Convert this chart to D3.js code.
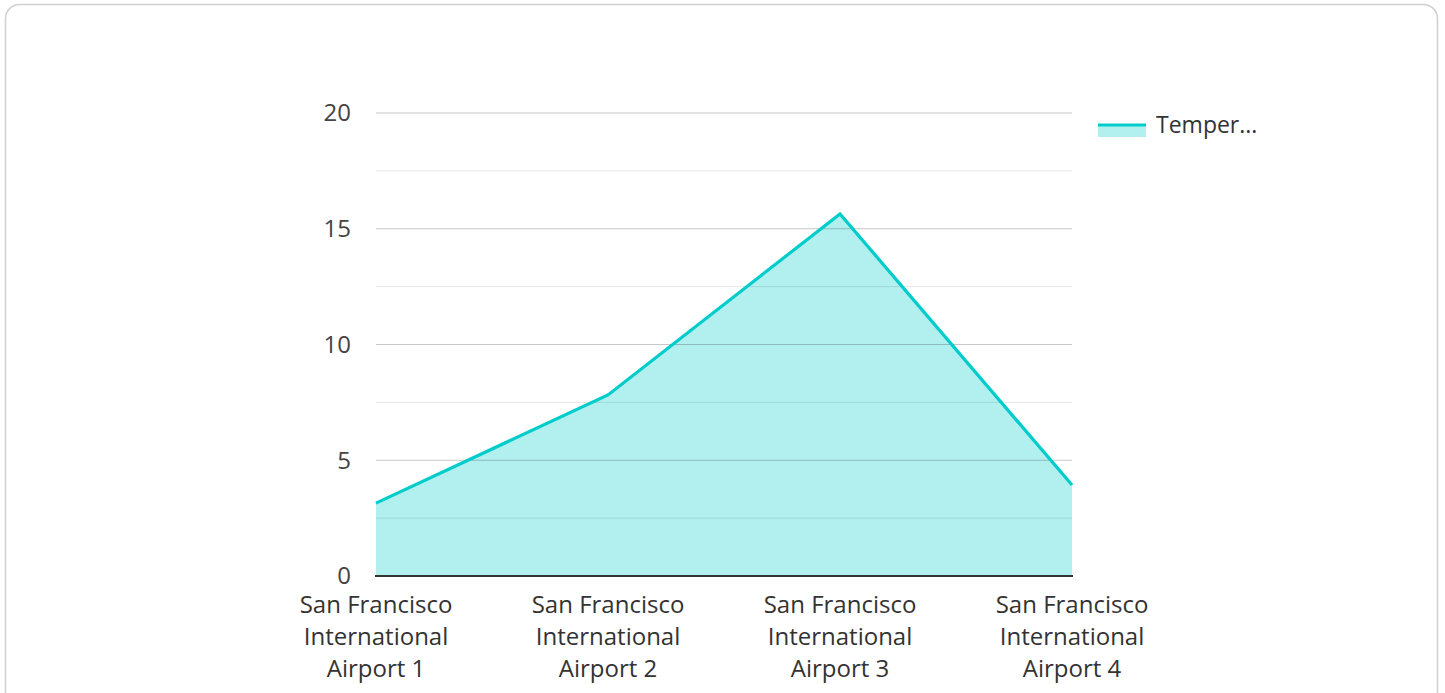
<!DOCTYPE html>
<html><head><meta charset="utf-8">
<script src="https://cdn.jsdelivr.net/npm/d3@7"></script>
<style>
html,body{margin:0;padding:0;background:#fff;}
svg{display:block;font-family:"Open Sans",sans-serif;}
</style></head><body>
<svg id="c" width="1445" height="693"></svg>
<script>
const categories = ["San Francisco International Airport 1","San Francisco International Airport 2","San Francisco International Airport 3","San Francisco International Airport 4"];
const temperature = [3.15, 7.82, 15.64, 3.93];
const yTicks = [0,5,10,15,20];
const minorTicks = [2.5,7.5,12.5,17.5];
const seriesName = "Temper...";

const svg = d3.select("#c");
svg.append("rect").attr("x",5.5).attr("y",4.5).attr("width",1432).attr("height",710).attr("rx",14)
  .attr("fill","#fff").attr("stroke","#d0d0d0").attr("stroke-width",1.5);

const x = d3.scalePoint().domain(categories).range([376,1072]);
const y = d3.scaleLinear().domain([0,20]).range([576,113]);

const g = svg.append("g");
const area = d3.area().x((d,i)=>x(categories[i])).y0(y(0)).y1(d=>y(d));
const line = d3.line().x((d,i)=>x(categories[i])).y(d=>y(d));

g.append("path").datum(temperature).attr("d",area).attr("fill","rgba(0,204,204,0.3)");

g.selectAll(".minor").data(minorTicks).join("line")
  .attr("x1",376).attr("x2",1072).attr("y1",d=>y(d)).attr("y2",d=>y(d))
  .attr("stroke","rgba(0,0,0,0.1)").attr("stroke-width",1);
g.selectAll(".major").data(yTicks.filter(t=>t>0)).join("line")
  .attr("x1",376).attr("x2",1072).attr("y1",d=>y(d)).attr("y2",d=>y(d))
  .attr("stroke","rgba(0,0,0,0.22)").attr("stroke-width",1);

g.append("path").datum(temperature).attr("d",line).attr("fill","none")
  .attr("stroke","#00cccc").attr("stroke-width",3.2).attr("stroke-linejoin","miter");

g.append("line").attr("x1",375).attr("x2",1073).attr("y1",y(0)).attr("y2",y(0))
  .attr("stroke","#333").attr("stroke-width",2);

g.selectAll(".yl").data(yTicks).join("text")
  .attr("x",351).attr("y",d=>y(d)).attr("dy","0.35em").attr("text-anchor","end")
  .attr("font-size",24).attr("fill","#444").text(d=>d);

const xl = g.selectAll(".xl").data(categories).join("text")
  .attr("text-anchor","middle").attr("font-size",24).attr("fill","#333")
  .attr("transform",d=>`translate(${x(d)},0)`);
xl.each(function(d){
  const words = ["San Francisco","International", d.replace("San Francisco International ","")];
  d3.select(this).selectAll("tspan").data(words).join("tspan")
    .attr("x",0).attr("y",(w,i)=>613+i*32).text(w=>w);
});

const lg = svg.append("g");
lg.append("rect").attr("x",1098).attr("y",124).attr("width",48).attr("height",13).attr("fill","rgba(0,204,204,0.3)");
lg.append("line").attr("x1",1098).attr("x2",1146).attr("y1",125).attr("y2",125).attr("stroke","#00cccc").attr("stroke-width",3);
lg.append("text").attr("x",1156).attr("y",125).attr("dy","0.35em").attr("font-size",23).attr("fill","#333").text(seriesName);
</script>
</body></html>
